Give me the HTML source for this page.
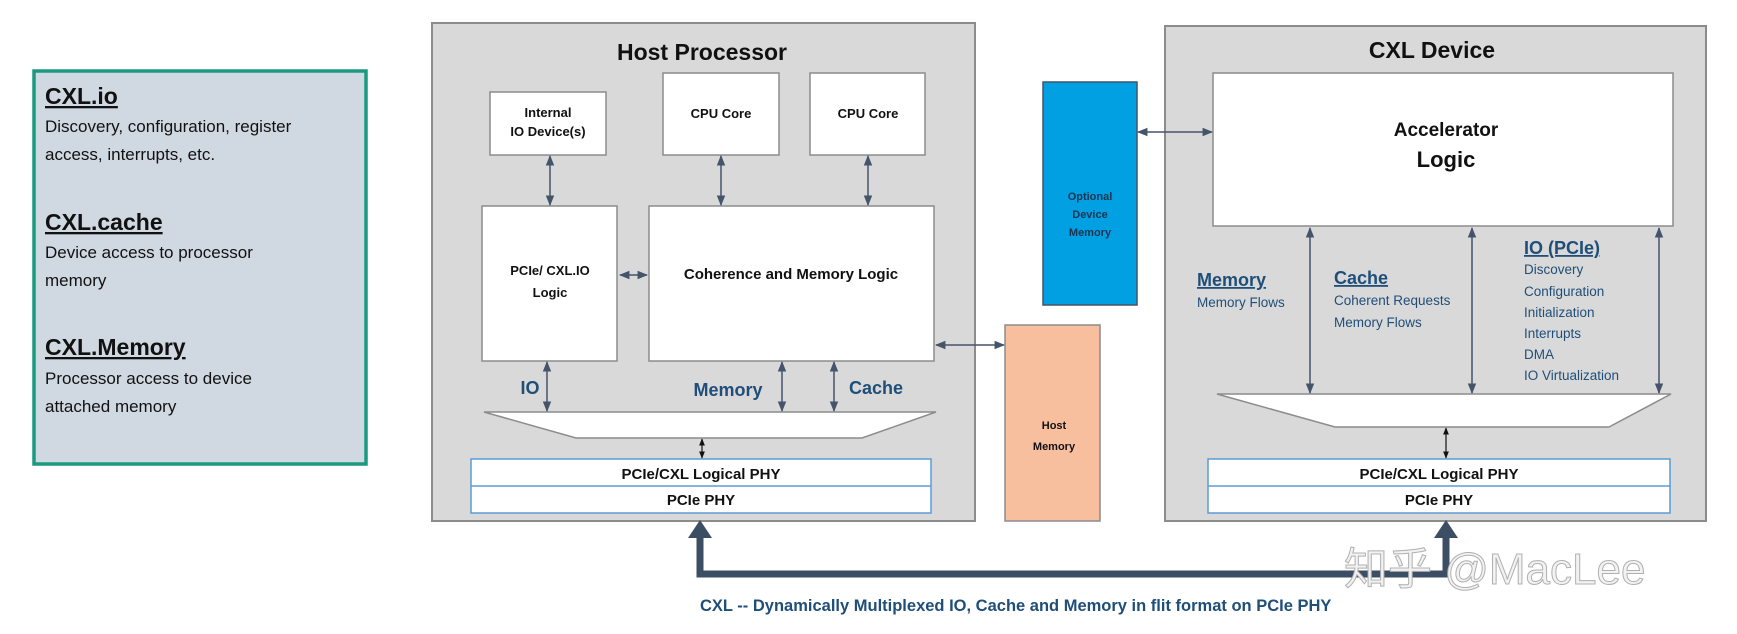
<!DOCTYPE html>
<html><head><meta charset="utf-8"><style>
html,body{margin:0;padding:0;background:#fff;}
svg{display:block;font-family:"Liberation Sans","Noto Sans CJK SC",sans-serif;}
</style></head><body>
<svg width="1737" height="634" viewBox="0 0 1737 634" xmlns="http://www.w3.org/2000/svg">
<defs>
<marker id="a" viewBox="0 0 10 10" refX="9" refY="5" markerWidth="7" markerHeight="7" orient="auto-start-reverse"><path d="M0,1 L10,5 L0,9 z" fill="#44546a"/></marker>
<marker id="b" viewBox="0 0 10 10" refX="9" refY="5" markerWidth="6" markerHeight="6" orient="auto-start-reverse"><path d="M0,1 L10,5 L0,9 z" fill="#111"/></marker>
</defs>
<!-- left legend -->
<rect x="34" y="71" width="332" height="393" fill="#d0d8e1" stroke="#1a9a80" stroke-width="3.5"/>
<g fill="#111">
<text x="45" y="104" font-size="23" font-weight="bold" text-decoration="underline">CXL.io</text>
<text x="45" y="132" font-size="17">Discovery, configuration, register</text>
<text x="45" y="160" font-size="17">access, interrupts, etc.</text>
<text x="45" y="230" font-size="23" font-weight="bold" text-decoration="underline">CXL.cache</text>
<text x="45" y="258" font-size="17">Device access to processor</text>
<text x="45" y="286" font-size="17">memory</text>
<text x="45" y="355" font-size="23" font-weight="bold" text-decoration="underline">CXL.Memory</text>
<text x="45" y="384" font-size="17">Processor access to device</text>
<text x="45" y="412" font-size="17">attached memory</text>
</g>
<!-- host processor -->
<rect x="432" y="23" width="543" height="498" fill="#d9d9d9" stroke="#8c8c8c" stroke-width="2"/>
<text x="702" y="60" font-size="23" font-weight="bold" text-anchor="middle" fill="#111">Host Processor</text>
<g fill="#fff" stroke="#8c8c8c" stroke-width="1.5">
<rect x="490" y="92" width="116" height="63"/>
<rect x="663" y="73" width="116" height="82"/>
<rect x="810" y="73" width="115" height="82"/>
<rect x="482" y="206" width="135" height="155"/>
<rect x="649" y="206" width="285" height="155"/>
<polygon points="484,412 936,412 862,438 576,438"/>
<rect x="471" y="459" width="460" height="54" stroke="#5b9bd5"/>
<line x1="471" y1="486" x2="931" y2="486" stroke="#5b9bd5"/>
</g>
<g fill="#111" font-size="13" font-weight="bold" text-anchor="middle">
<text x="548" y="117">Internal</text><text x="548" y="136">IO Device(s)</text>
<text x="721" y="118">CPU Core</text>
<text x="868" y="118">CPU Core</text>
<text x="550" y="275">PCIe/ CXL.IO</text><text x="550" y="297">Logic</text>
<text x="791" y="279" font-size="15">Coherence and Memory Logic</text>
<text x="701" y="479" font-size="15">PCIe/CXL Logical PHY</text>
<text x="701" y="505" font-size="15">PCIe PHY</text>
</g>
<g fill="#1f4e79" font-size="18" font-weight="bold" text-anchor="middle">
<text x="530" y="394">IO</text><text x="728" y="396">Memory</text><text x="876" y="394">Cache</text>
</g>
<!-- memories -->
<rect x="1043" y="82" width="94" height="223" fill="#00a0e3" stroke="#44546a" stroke-width="1.5"/>
<g fill="#1a3550" font-size="11" font-weight="bold" text-anchor="middle">
<text x="1090" y="200">Optional</text><text x="1090" y="218">Device</text><text x="1090" y="236">Memory</text></g>
<rect x="1005" y="325" width="95" height="196" fill="#f8bf9f" stroke="#8c8c8c" stroke-width="1.5"/>
<g fill="#111" font-size="11" font-weight="bold" text-anchor="middle">
<text x="1054" y="429">Host</text><text x="1054" y="450">Memory</text></g>
<!-- CXL device -->
<rect x="1165" y="26" width="541" height="495" fill="#d9d9d9" stroke="#8c8c8c" stroke-width="2"/>
<text x="1432" y="58" font-size="23" font-weight="bold" text-anchor="middle" fill="#111">CXL Device</text>
<g fill="#fff" stroke="#8c8c8c" stroke-width="1.5">
<rect x="1213" y="73" width="460" height="153"/>
<polygon points="1217,394 1671,394 1609,427 1335,427"/>
<rect x="1208" y="459" width="462" height="54" stroke="#5b9bd5"/>
<line x1="1208" y1="486" x2="1670" y2="486" stroke="#5b9bd5"/>
</g>
<g fill="#111" font-weight="bold" text-anchor="middle">
<text x="1446" y="136" font-size="19">Accelerator</text>
<text x="1446" y="167" font-size="22">Logic</text>
<text x="1439" y="479" font-size="15">PCIe/CXL Logical PHY</text>
<text x="1439" y="505" font-size="15">PCIe PHY</text>
</g>
<g fill="#1f4e79">
<text x="1197" y="286" font-size="18" font-weight="bold" text-decoration="underline">Memory</text>
<text x="1197" y="307" font-size="13.5">Memory Flows</text>
<text x="1334" y="284" font-size="18" font-weight="bold" text-decoration="underline">Cache</text>
<text x="1334" y="305" font-size="13.5">Coherent Requests</text>
<text x="1334" y="327" font-size="13.5">Memory Flows</text>
<text x="1524" y="254" font-size="18" font-weight="bold" text-decoration="underline">IO (PCIe)</text>
<g font-size="13.5">
<text x="1524" y="274">Discovery</text><text x="1524" y="296">Configuration</text>
<text x="1524" y="317">Initialization</text><text x="1524" y="338">Interrupts</text>
<text x="1524" y="359">DMA</text><text x="1524" y="380">IO Virtualization</text></g>
</g>
<!-- arrows -->
<g stroke="#44546a" stroke-width="1.5" marker-start="url(#a)" marker-end="url(#a)">
<line x1="550" y1="156" x2="550" y2="205"/>
<line x1="721" y1="156" x2="721" y2="205"/>
<line x1="868" y1="156" x2="868" y2="205"/>
<line x1="620" y1="275" x2="647" y2="275"/>
<line x1="547" y1="362" x2="547" y2="411"/>
<line x1="782" y1="362" x2="782" y2="411"/>
<line x1="834" y1="362" x2="834" y2="411"/>
<line x1="936" y1="345" x2="1004" y2="345"/>
<line x1="1138" y1="132" x2="1212" y2="132"/>
<line x1="1310" y1="228" x2="1310" y2="393"/>
<line x1="1472" y1="228" x2="1472" y2="393"/>
<line x1="1659" y1="228" x2="1659" y2="393"/>
</g>
<g stroke="#111" stroke-width="1.2" marker-start="url(#b)" marker-end="url(#b)">
<line x1="702" y1="439" x2="702" y2="458"/>
<line x1="1446" y1="428" x2="1446" y2="458"/>
</g>
<!-- big connector -->
<polyline points="700,535 700,574 1446,574 1446,535" fill="none" stroke="#3b4e63" stroke-width="7"/>
<polygon points="688,538 700,520 712,538" fill="#3b4e63"/>
<polygon points="1434,538 1446,520 1458,538" fill="#3b4e63"/>
<text x="700" y="611" font-size="16.5" font-weight="bold" fill="#1f4e79">CXL  --  Dynamically Multiplexed IO, Cache and Memory in flit format on PCIe PHY</text>
<text x="1344" y="584" font-size="44" fill="#f2f2f2" stroke="#b0b0b0" stroke-width="1">知乎 @MacLee</text>
</svg>
</body></html>
